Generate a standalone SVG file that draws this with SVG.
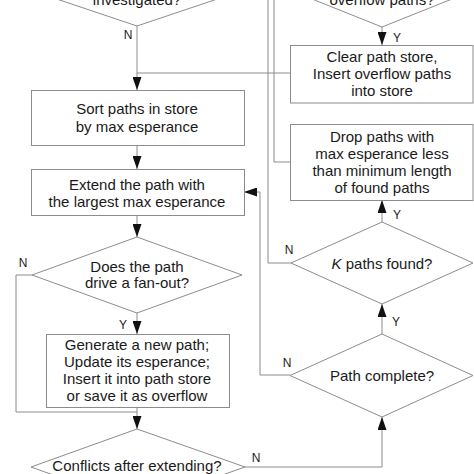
<svg xmlns="http://www.w3.org/2000/svg" width="474" height="474" viewBox="0 0 474 474">
<style>
.s{fill:#fff;stroke:#8c8c8c;stroke-width:1}
.c{fill:none;stroke:#8c8c8c;stroke-width:1}
.t{font-family:"Liberation Sans",Arial,sans-serif;font-size:15px;fill:#1a1a1a;text-anchor:middle}
.l{font-family:"Liberation Sans",Arial,sans-serif;font-size:12px;fill:#1a1a1a;text-anchor:middle}
</style>
<defs>
<marker id="a" viewBox="0 0 13 9" refX="13" refY="4.5" markerWidth="13" markerHeight="9" markerUnits="userSpaceOnUse" orient="auto">
<path d="M0,0 L13,4.5 L0,9 Z" fill="#111"/>
</marker>
</defs>
<rect width="474" height="474" fill="#fff"/>
<g id="connectors">
<path class="c" d="M137,26 V90" marker-end="url(#a)"/>
<path class="c" d="M290,73 H137"/>
<path class="c" d="M137,145 V169" marker-end="url(#a)"/>
<path class="c" d="M137,215 V237" marker-end="url(#a)"/>
<path class="c" d="M137,313 V334" marker-end="url(#a)"/>
<path class="c" d="M32,275 H16 V412 H137"/>
<path class="c" d="M137,407 V429" marker-end="url(#a)"/>
<path class="c" d="M245,467 H382 V417" marker-end="url(#a)"/>
<path class="c" d="M382,334 V304" marker-end="url(#a)"/>
<path class="c" d="M290,375 H260 V192 H244" marker-end="url(#a)"/>
<path class="c" d="M382,222 V200" marker-end="url(#a)"/>
<path class="c" d="M291,263 H268 V0"/>
<path class="c" d="M290,162 H274 V0"/>
<path class="c" d="M382,27 V45" marker-end="url(#a)"/>
<text class="l" x="128" y="39">N</text>
<text class="l" x="397" y="42">Y</text>
<text class="l" x="23" y="267">N</text>
<text class="l" x="123" y="329">Y</text>
<text class="l" x="287" y="367">N</text>
<text class="l" x="396" y="326">Y</text>
<text class="l" x="289" y="254">N</text>
<text class="l" x="397" y="219">Y</text>
<text class="l" x="256" y="462">N</text>
</g>
<g id="investigated">
<polygon class="s" points="137,-54 256,-14 137,26 18,-14"/>
<text class="t" x="137" y="5">investigated?</text>
</g>
<g id="overflow">
<polygon class="s" points="382,-53 482,-13 382,27 282,-13"/>
<text class="t" x="382" y="5">overflow paths?</text>
</g>
<g id="clear">
<rect class="s" x="290.5" y="45.5" width="182.5" height="57.5"/>
<text class="t" x="382" y="62">Clear path store,</text>
<text class="t" x="382" y="79">Insert overflow paths</text>
<text class="t" x="382" y="96">into store</text>
</g>
<g id="sort">
<rect class="s" x="31.5" y="90.5" width="213" height="55"/>
<text class="t" x="137" y="114">Sort paths in store</text>
<text class="t" x="137" y="132">by max esperance</text>
</g>
<g id="drop">
<rect class="s" x="290.5" y="124.5" width="182.5" height="76"/>
<text class="t" x="382" y="142">Drop paths with</text>
<text class="t" x="382" y="159">max esperance less</text>
<text class="t" x="382" y="176">than minimum length</text>
<text class="t" x="382" y="193">of found paths</text>
</g>
<g id="extend">
<rect class="s" x="31.5" y="169.5" width="213" height="46"/>
<text class="t" x="137" y="190">Extend the path with</text>
<text class="t" x="137" y="207">the largest max esperance</text>
</g>
<g id="fanout">
<polygon class="s" points="137,237 242,275 137,313 32,275"/>
<text class="t" x="137" y="272">Does the path</text>
<text class="t" x="137" y="288">drive a fan-out?</text>
</g>
<g id="kpaths">
<polygon class="s" points="382,222 473,263 382,304 291,263"/>
<text class="t" x="382" y="269"><tspan font-style="italic">K</tspan> paths found?</text>
</g>
<g id="generate">
<rect class="s" x="46.5" y="334.5" width="183" height="73"/>
<text class="t" x="137" y="350">Generate a new path;</text>
<text class="t" x="137" y="367">Update its esperance;</text>
<text class="t" x="137" y="384">Insert it into path store</text>
<text class="t" x="137" y="401">or save it as overflow</text>
</g>
<g id="complete">
<polygon class="s" points="382,334 473,375.5 382,417 290,375.5"/>
<text class="t" x="382" y="381">Path complete?</text>
</g>
<g id="conflicts">
<polygon class="s" points="137,429 245,467 137,505 31,467"/>
<text class="t" x="137" y="471">Conflicts after extending?</text>
</g>
</svg>
